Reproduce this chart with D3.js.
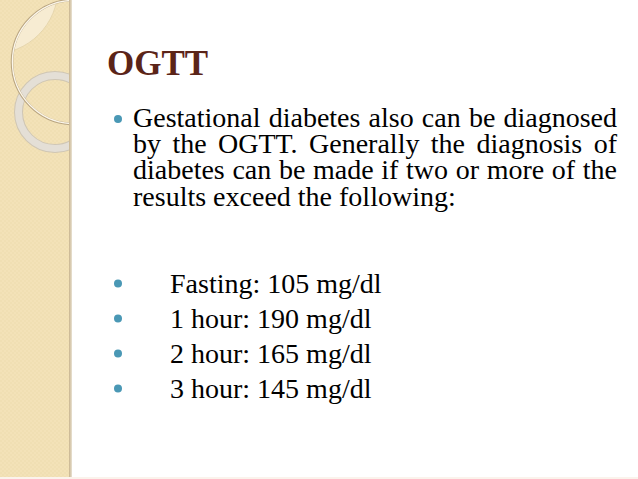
<!DOCTYPE html>
<html>
<head>
<meta charset="utf-8">
<script src="https://cdn.jsdelivr.net/npm/d3@7"></script>
<style>
  html, body { margin: 0; padding: 0; background: #fff; }
  svg { display: block; }
</style>
</head>
<body>
<div id="slide"></div>
<script>
const titleText = "OGTT";
const introLines = [
  "Gestational diabetes also can be diagnosed",
  "by the OGTT. Generally the diagnosis of",
  "diabetes can be made if two or more of the",
  "results exceed the following:"
];
const testNames = ["Fasting", "1 hour", "2 hour", "3 hour"];
const testLimits = [105, 190, 165, 145];
const unit = "mg/dl";

const width = 638;
const height = 479;
const panelW = 70;

const svg = d3.select("#slide")
  .append("svg")
  .attr("width", width)
  .attr("height", height);

const defs = svg.append("defs");

// subtle checker texture of the side panel
const pat = defs.append("pattern")
  .attr("id", "weave")
  .attr("width", 4)
  .attr("height", 4)
  .attr("patternUnits", "userSpaceOnUse");
pat.append("rect").attr("width", 4).attr("height", 4).attr("fill", "#f3e2b8");
pat.append("rect").attr("width", 2).attr("height", 2).attr("fill", "#f0dfb3");
pat.append("rect").attr("x", 2).attr("y", 2).attr("width", 2).attr("height", 2).attr("fill", "#f0dfb3");

defs.append("clipPath")
  .attr("id", "panelClip")
  .append("rect")
  .attr("width", panelW)
  .attr("height", height);

defs.append("clipPath")
  .attr("id", "bigCircle")
  .append("circle")
  .attr("cx", 74)
  .attr("cy", 62)
  .attr("r", 62);

const shade = defs.append("linearGradient")
  .attr("id", "edgeShade")
  .attr("x1", 0).attr("x2", 1);
shade.append("stop").attr("offset", 0).attr("stop-color", "#c8b38c");
shade.append("stop").attr("offset", 1).attr("stop-color", "#e9e2d4");

// side panel
const panel = svg.append("g").attr("clip-path", "url(#panelClip)");

panel.append("rect")
  .attr("width", panelW)
  .attr("height", height)
  .attr("fill", "url(#weave)");

// lighter leaf in the top-left corner
panel.append("g")
  .attr("clip-path", "url(#bigCircle)")
  .append("circle")
  .attr("cx", -8)
  .attr("cy", -12)
  .attr("r", 66)
  .attr("fill", "#f7ecd2")
  .attr("stroke", "#e6d6ae")
  .attr("stroke-width", 1);

// ring
panel.append("circle")
  .attr("cx", 55)
  .attr("cy", 112)
  .attr("r", 36.5)
  .attr("fill", "none")
  .attr("stroke", "#cfc6b4")
  .attr("stroke-width", 9);
panel.append("circle")
  .attr("cx", 55)
  .attr("cy", 112)
  .attr("r", 36.5)
  .attr("fill", "none")
  .attr("stroke", "#e4dfd6")
  .attr("stroke-width", 7);

// big thin arc
panel.append("circle")
  .attr("cx", 74)
  .attr("cy", 62)
  .attr("r", 62)
  .attr("fill", "none")
  .attr("stroke", "#b9a581")
  .attr("stroke-width", 2.6);
panel.append("circle")
  .attr("cx", 74)
  .attr("cy", 62)
  .attr("r", 61.6)
  .attr("fill", "none")
  .attr("stroke", "#fbf6ea")
  .attr("stroke-width", 1.3);

// panel edge
svg.append("rect")
  .attr("x", panelW - 1)
  .attr("y", 0)
  .attr("width", 3)
  .attr("height", height)
  .attr("fill", "url(#edgeShade)");

// title
svg.append("text")
  .attr("x", 107)
  .attr("y", 75)
  .attr("font-family", "'Liberation Serif', 'Times New Roman', serif")
  .attr("font-weight", "bold")
  .attr("font-size", "35px")
  .attr("fill", "#5b2418")
  .text(titleText);

const bulletColor = "#4a98b5";
const font = "'Liberation Serif', 'Times New Roman', serif";
const bodySize = 28;

// lay words out one by one; justify unless it is a last line
function placeWords(words, x0, y, right) {
  const g = svg.append("g");
  const nodes = words.map(w => g.append("text")
    .attr("y", y)
    .attr("font-family", font)
    .attr("font-size", bodySize + "px")
    .attr("fill", "#000")
    .text(w));
  const widths = nodes.map(n => n.node().getComputedTextLength());
  const gap = right == null ? bodySize * 0.25
    : (right - x0 - d3.sum(widths)) / (words.length - 1);
  let x = x0;
  nodes.forEach((n, j) => {
    n.attr("x", x);
    x += widths[j] + gap;
  });
}

// intro paragraph
const textLeft = 133;
const textRight = 617;
const lineY = d3.scaleLinear()
  .domain([0, introLines.length - 1])
  .range([126.5, 205.5]);

svg.append("circle")
  .attr("cx", 118)
  .attr("cy", 119)
  .attr("r", 4)
  .attr("fill", bulletColor);

introLines.forEach((line, i) => {
  const last = i === introLines.length - 1;
  placeWords(line.split(" "), textLeft, lineY(i), last ? null : textRight);
});

// list of thresholds
const itemY = d3.scalePoint()
  .domain(testNames)
  .range([292.5, 397.5]);

svg.selectAll(".dot")
  .data(testNames)
  .enter()
  .append("circle")
  .attr("class", "dot")
  .attr("cx", 118)
  .attr("cy", d => itemY(d) - 9)
  .attr("r", 4)
  .attr("fill", bulletColor);

testNames.forEach((name, i) => {
  const line = name + ": " + testLimits[i] + " " + unit;
  placeWords(line.split(" "), 170, itemY(name), null);
});

// faint bottom edge
svg.append("rect")
  .attr("x", 0)
  .attr("y", height - 2)
  .attr("width", width)
  .attr("height", 2)
  .attr("fill", "#fbf3ec");
</script>
</body>
</html>
